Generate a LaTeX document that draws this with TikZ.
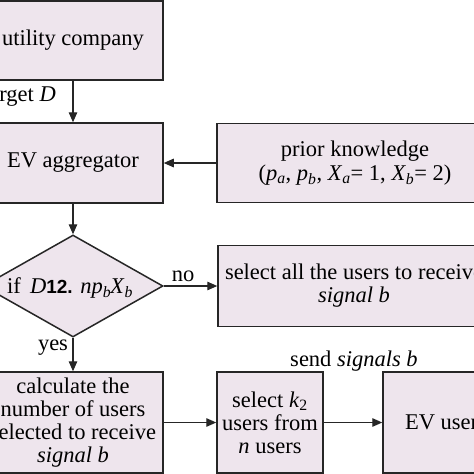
\documentclass[tikz,border=0pt]{standalone}
\usepackage{fontspec}
\setmainfont{Liberation Serif}
\setsansfont{Liberation Sans}
\usetikzlibrary{arrows.meta,shapes.geometric}
\definecolor{boxfill}{RGB}{238,229,237}
\definecolor{boxline}{RGB}{38,38,38}
\newcommand\mysub[1]{\textsubscript{#1}}
\tikzset{
  box/.style={draw=boxline, fill=boxfill, line width=1.5pt, inner sep=0pt,
    align=center, font=\fontsize{22.5}{23}\selectfont},
  flow/.style={-{Triangle[length=10pt,width=8.5pt]}, line width=1.3pt, draw=boxline},
  lbl/.style={font=\fontsize{22.5}{23}\selectfont, inner sep=0pt, text=black}
}
\begin{document}
\begin{tikzpicture}[x=1pt,y=1pt]
\useasboundingbox (0,0) rectangle (474,-474);
\fill[white] (0,0) rectangle (474,-474);
\node[box, minimum width=180pt, minimum height=79pt] (util) at (73,-40.5) {utility company};
\node[box, minimum width=180pt, minimum height=80pt] (agg) at (73,-163) {EV aggregator};
\node[box, minimum width=276pt, minimum height=79pt] (prior) at (355,-163) {prior knowledge\\[1pt](\textit{p}\mysub{\textit{a}}, \textit{p}\mysub{\textit{b}}, \textit{X}\mysub{\textit{a}}= 1, \textit{X}\mysub{\textit{b}}= 2)};
\node[box, diamond, minimum width=180pt, minimum height=102pt] (cond) at (73,-286) {};
\node[lbl] (condtxt) at (70,-288) {if \,\textit{D}{\sffamily\fontsize{19}{20}\selectfont\bfseries 12.} \textit{np}\mysub{\textit{b}}\kern-1pt\textit{X}\mysub{\textit{b}}};
\node[box, minimum width=272pt, minimum height=81pt] (all) at (354,-286) {select all the users to receive\\\textit{signal b}};
\node[box, minimum width=180pt, minimum height=101pt] (calc) at (73,-422.5) {calculate the\\number of users\\selected to receive\\\textit{signal b}};
\node[box, minimum width=106pt, minimum height=101pt] (sel) at (270,-422.5) {select \textit{k}\mysub{2}\\users from\\\textit{n} users};
\node[box, minimum width=126pt, minimum height=101pt] (users) at (446,-422.5) {EV users};
\draw[flow] (util) -- (agg);
\draw[flow] (prior.west) -- (agg.east);
\draw[flow] (agg) -- (cond.north);
\draw[flow] (cond.east) -- (all.west);
\draw[flow] (cond.south) -- (calc.north);
\draw[flow] (calc) -- (sel);
\draw[flow] (sel) -- (users);
\node[lbl, anchor=east] (tgt) at (56,-97) {target\ \textit{D}};
\node[lbl] (no) at (183,-276) {no};
\node[lbl] (yes) at (53,-348) {yes};
\node[lbl] (send) at (354,-361.5) {send \textit{signals b}};
\end{tikzpicture}
\end{document}
